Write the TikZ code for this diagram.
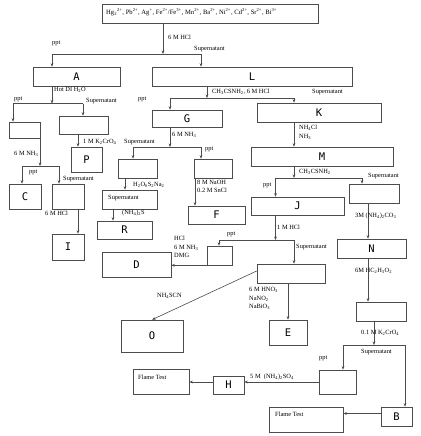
\documentclass[tikz,border=0pt]{standalone}
\usepackage{fontspec}
\setmainfont{Liberation Serif}
\newfontfamily\boxfont{DejaVu Sans Mono}
\usetikzlibrary{arrows.meta}
\newcommand{\lo}[1]{\textsubscript{#1}}
\newcommand{\hi}[1]{\textsuperscript{#1}}
\tikzset{
    box/.style={draw=black!70, line width=0.6pt, inner sep=0pt, font=\boxfont\fontsize{10.5}{10.5}\selectfont},
    lbl/.style={anchor=west, inner sep=0pt, align=left, font=\fontsize{6.4}{8.5}\selectfont},
    flow/.style={draw=black!70, line width=0.6pt},
    >={Stealth[length=3.5pt,width=2.8pt]}
}

\begin{document}
\begin{tikzpicture}[x=1pt,y=-1pt]
    \useasboundingbox (0,0) rectangle (420,436);

    % boxes
    \node[box,minimum width=216pt,minimum height=19pt] (ions) at (210,13.5) {};
    \node[box,minimum width=87pt,minimum height=19pt] (A) at (76.5,76.5) {A};
    \node[box,minimum width=200pt,minimum height=19pt] (L) at (252,76.5) {L};
    \node[box,minimum width=31pt,minimum height=16pt] (Appt) at (24.5,130) {};
    \node[box,minimum width=49pt,minimum height=18pt] (Asup) at (83.5,125) {};
    \node[box,minimum width=31pt,minimum height=25pt] (P) at (86.5,159.5) {P};
    \node[box,minimum width=32pt,minimum height=25pt] (C) at (25,196.5) {C};
    \node[box,minimum width=32pt,minimum height=25pt] (Csup) at (68,196.5) {};
    \node[box,minimum width=32pt,minimum height=26pt] (I) at (68,247) {I};
    \node[box,minimum width=70pt,minimum height=17pt] (G) at (187,118.5) {G};
    \node[box,minimum width=124pt,minimum height=19pt] (K) at (319,112.5) {K};
    \node[box,minimum width=39pt,minimum height=19pt] (Gsup) at (137.5,168.5) {};
    \node[box,minimum width=38pt,minimum height=19pt] (Gppt) at (213,168.5) {};
    \node[box,minimum width=55pt,minimum height=19pt] (Gsup2) at (129.5,199.5) {};
    \node[box,minimum width=55pt,minimum height=18pt] (R) at (124.5,230) {R};
    \node[box,minimum width=57pt,minimum height=18pt] (F) at (216.5,215) {F};
    \node[box,minimum width=142pt,minimum height=19pt] (M) at (322,156.5) {M};
    \node[box,minimum width=93pt,minimum height=18pt] (J) at (297.5,206) {J};
    \node[box,minimum width=50pt,minimum height=19pt] (Msup) at (374,193.5) {};
    \node[box,minimum width=69pt,minimum height=19pt] (N) at (371.5,248.5) {N};
    \node[box,minimum width=25pt,minimum height=19pt] (Jppt) at (219.5,255.5) {};
    \node[box,minimum width=69pt,minimum height=25pt] (D) at (136.5,264.5) {D};
    \node[box,minimum width=68pt,minimum height=19pt] (Jsup) at (291,273.5) {};
    \node[box,minimum width=62pt,minimum height=32pt] (O) at (152,336) {O};
    \node[box,minimum width=38pt,minimum height=25pt] (E) at (288,332.5) {E};
    \node[box,minimum width=50pt,minimum height=19pt] (Nsup) at (381,311.5) {};
    \node[box,minimum width=37pt,minimum height=24pt] (Nppt) at (337.5,382) {};
    \node[box,minimum width=31pt,minimum height=18pt] (H) at (228.5,385) {H};
    \node[box,minimum width=56pt,minimum height=25pt] (flameH) at (161,381.5) {};
    \node[box,minimum width=31pt,minimum height=19pt] (B) at (396.5,416.5) {B};
    \node[box,minimum width=74pt,minimum height=25pt] (flameB) at (306,419.5) {};

    % texts in boxes
    \node[lbl,font=\fontsize{6.6}{8}\selectfont] (ionstxt) at (106,12.5) {Hg\lo{2}\hi{2+}, Pb\hi{2+}, Ag\hi{+}, Fe\hi{2+}/Fe\hi{3+}, Mn\hi{2+}, Ba\hi{2+}, Ni\hi{2+}, Cd\hi{2+}, Sr\hi{2+}, Bi\hi{3+}};
    \node[lbl] (Gsup2txt) at (108,198) {Supernatant};
    \node[lbl] (flameHtxt) at (138,377) {Flame Test};
    \node[lbl] (flameBtxt) at (275,414) {Flame Test};

    % split points
    \coordinate (s0) at (163,54);   \coordinate (s0a) at (52,54);    \coordinate (s0b) at (201,54);
    \coordinate (s1) at (52,103.5); \coordinate (s1a) at (13,103.5); \coordinate (s1b) at (83,103.5);
    \coordinate (s2) at (40,166);   \coordinate (s2a) at (22,166);   \coordinate (s2b) at (59,166);
    \coordinate (s3) at (207,98);   \coordinate (s3a) at (170,98);   \coordinate (s3b) at (294,98);
    \coordinate (s4) at (170,147);  \coordinate (s4a) at (133,147);  \coordinate (s4b) at (201,147);
    \coordinate (s5) at (294,178);  \coordinate (s5a) at (275.5,178);\coordinate (s5b) at (362,178);
    \coordinate (s6) at (275.5,240);\coordinate (s6a) at (219,240);  \coordinate (s6b) at (294,240);
    \coordinate (s7) at (374,345);  \coordinate (s7a) at (343,345);  \coordinate (s7b) at (405,345);
    \coordinate (kP) at (78,0); \coordinate (kGs) at (125,0); \coordinate (kR) at (113,0);
    \coordinate (kF) at (195,0); \coordinate (kN) at (368,0);

    % connectors
    \draw[flow,->] (ions.south -| s0) -- (s0);
    \draw[flow] (s0a) -- (s0b);
    \draw[flow,->] (s0a) -- (s0a |- A.north);
    \draw[flow,->] (s0b) -- (s0b |- L.north);

    \draw[flow,->] (A.south -| s1) -- (s1);
    \draw[flow] (s1a) -- (s1b);
    \draw[flow,->] (s1a) -- (s1a |- Appt.north);
    \draw[flow,->] (s1b) -- (s1b |- Asup.north);
    \draw[flow,->] (Asup.south -| kP) -- (P.north -| kP);

    \draw[flow,->] (Appt.south -| s2) -- (s2);
    \draw[flow] (s2a) -- (s2b);
    \draw[flow,->] (s2a) -- (s2a |- C.north);
    \draw[flow,->] (s2b) -- (s2b |- Csup.north);
    \draw[flow,->] (Csup.south -| kP) -- (I.north -| kP);

    \draw[flow,->] (L.south -| s3) -- (s3);
    \draw[flow] (s3a) -- (s3b);
    \draw[flow,->] (s3a) -- (s3a |- G.north);
    \draw[flow,->] (s3b) -- (s3b |- K.north);

    \draw[flow,->] (G.south -| s4) -- (s4);
    \draw[flow] (s4a) -- (s4b);
    \draw[flow,->] (s4a) -- (s4a |- Gsup.north);
    \draw[flow,->] (s4b) -- (s4b |- Gppt.north);
    \draw[flow,->] (Gsup.south -| kGs) -- (Gsup2.north -| kGs);
    \draw[flow,->] (Gsup2.south -| kR) -- (R.north -| kR);
    \draw[flow,->] (Gppt.south -| kF) -- (F.north -| kF);

    \draw[flow,->] (K.south -| s5) -- (M.north -| s5);
    \draw[flow,->] (M.south -| s5) -- (s5);
    \draw[flow] (s5a) -- (s5b);
    \draw[flow,->] (s5a) -- (s5a |- J.north);
    \draw[flow,->] (s5b) -- (s5b |- Msup.north);
    \draw[flow,->] (Msup.south -| kN) -- (N.north -| kN);
    \draw[flow,->] (N.south -| kN) -- (Nsup.north -| kN);

    \draw[flow,->] (J.south -| s6) -- (s6);
    \draw[flow] (s6a) -- (s6b);
    \draw[flow,->] (s6a) -- (s6a |- Jppt.north);
    \draw[flow,->] (s6b) -- (s6b |- Jsup.north);
    \draw[flow,->] (Jppt.south west) -- (Jppt.south west -| D.east);
    \draw[flow,->] ([yshift=2.5pt]Jsup.west) -- (O.north);
    \draw[flow,->] (Jsup.south -| E.north) -- (E.north);

    \draw[flow,->] (Nsup.south -| s7) -- (s7);
    \draw[flow] (s7a) -- (s7b);
    \draw[flow,->] (s7a) -- (s7a |- Nppt.north);
    \draw[flow,->] (s7b) -- (s7b |- B.north);
    \draw[flow,->] (Nppt.west) -- (Nppt.west -| H.east);
    \draw[flow,->] (Nppt.west -| H.west) -- (Nppt.west -| flameH.east);
    \draw[flow,->] ([yshift=3pt]B.west) -- ([yshift=3pt]B.west -| flameB.east);

    % labels
    \node[lbl] (t1) at (168,37) {6 M HCl};
    \node[lbl] (t2) at (52,43) {ppt};
    \node[lbl] (t3) at (194,49) {Supernatant};
    \node[lbl] (t4) at (54,90) {Hot DI H\lo{2}O};
    \node[lbl] (t5) at (14,99) {ppt};
    \node[lbl] (t6) at (86,101) {Supernatant};
    \node[lbl] (t7) at (83,142) {1 M K\lo{2}CrO\lo{4}};
    \node[lbl] (t8) at (14,154) {6 M NH\lo{3}};
    \node[lbl] (t9) at (29,172) {ppt};
    \node[lbl] (t10) at (63,179) {Supernatant};
    \node[lbl] (t11) at (45,213) {6 M HCl};
    \node[lbl] (t12) at (212,92) {CH\lo{3}CSNH\lo{2}, 6 M HCl};
    \node[lbl] (t13) at (312,92) {Supernatant};
    \node[lbl] (t14) at (138,99) {ppt};
    \node[lbl] (t15) at (172,135) {6 M NH\lo{3}};
    \node[lbl] (t16) at (124,142) {Supernatant};
    \node[lbl] (t17) at (205,149) {ppt};
    \node[lbl] (t18) at (133,185) {H\lo{2}O\lo{6}S\lo{2}Na\lo{2}};
    \node[lbl] (t19) at (122,213) {(NH\lo{4})\lo{2}S};
    \node[lbl] (t20) at (197,186.5) {8 M NaOH\\0.2 M SnCl};
    \node[lbl] (t21) at (299,132.5) {NH\lo{4}Cl\\NH\lo{3}};
    \node[lbl] (t22) at (299,172) {CH\lo{3}CSNH\lo{2}};
    \node[lbl] (t23) at (263,185) {ppt};
    \node[lbl] (t24) at (368,176) {Supernatant};
    \node[lbl] (t25) at (355,216) {3M (NH\lo{4})\lo{2}CO\lo{3}};
    \node[lbl] (t26) at (277,227) {1 M HCl};
    \node[lbl] (t27) at (227,234) {ppt};
    \node[lbl] (t28) at (296,247) {Supernatant};
    \node[lbl] (t29) at (174,247) {HCl\\6 M NH\lo{3}\\DMG};
    \node[lbl] (t30) at (157,296) {NH\lo{4}SCN};
    \node[lbl] (t31) at (249,298.5) {6 M HNO\lo{3}\\NaNO\lo{2}\\NaBiO\lo{3}};
    \node[lbl] (t32) at (355,271) {6M HC\lo{2}H\lo{3}O\lo{2}};
    \node[lbl] (t33) at (361,333) {0.1 M K\lo{2}CrO\lo{4}};
    \node[lbl] (t34) at (361,352) {Supernatant};
    \node[lbl] (t35) at (319,358) {ppt};
    \node[lbl] (t36) at (250,377) {5 M~ (NH\lo{4})\lo{2}SO\lo{4}};
\end{tikzpicture}
\end{document}
